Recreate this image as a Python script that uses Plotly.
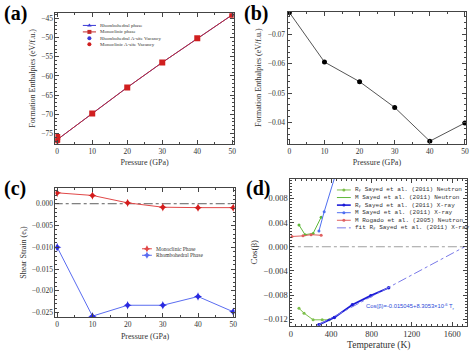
import plotly.graph_objects as go

# ---------------- data ----------------
pressure = [0, 10, 20, 30, 40, 50]
a_rhombo = [-76.6, -69.8, -63.0, -56.5, -50.2, -44.1]
a_mono = [-76.6, -69.8, -63.0, -56.5, -50.2, -44.1]
a_vac_p = [0]
a_rhombo_vac = [-77.1]
a_mono_vac = [-75.9]

b_enthalpy = [-0.0775, -0.0606, -0.0539, -0.0451, -0.0336, -0.0398]

c_mono = [0.0025, 0.0019, 0.0002, -0.0008, -0.0009, -0.0009]
c_rhombo = [-0.0100, -0.0258, -0.0233, -0.0233, -0.0213, -0.0248]

rf_neutron_T = [80, 130, 220, 310, 380]
rf_neutron_v = [-0.0102, -0.0110, -0.0121, -0.0121, -0.0121]
m_neutron_T = [80, 140, 220, 300]
m_neutron_v = [0.0036, 0.0020, 0.0022, 0.0049]
rf_xray_T = [278, 431, 610, 793, 970]
rf_xray_v = [-0.0129, -0.0117, -0.0096, -0.0081, -0.0068]
m_xray_T = [278, 330, 440]
m_xray_v = [0.0026, 0.0058, 0.0118]
rogado_T = [10, 120, 200, 300]
rogado_v = [0.0017, 0.0018, 0.0020, 0.0019]
fit_T = [278, 1725]
fit_v = [-0.0129, 0.0]

legend_a = ["Rhombohedral phase", "Monoclinic phase", "Rhombohedral A-site Vacancy", "Monoclinic A-site Vacancy"]
legend_c = ["Monoclinic Phase", "Rhombohedral Phase"]
legend_d = ["R<sub>f</sub> Sayed et al. (2011) Neutron", "M Sayed et al. (2011) Neutron",
            "R<sub>f</sub> Sayed et al. (2011) X-ray", "M Sayed et al. (2011) X-ray",
            "M Rogado et al. (2005) Neutron", "fit R<sub>f</sub> Sayed et al. (2011) X-ray"]

SERIF = "Liberation Serif"
MONO = "Liberation Mono"

RED_A = "#c42a2a"
BLUE_A = "#3b3bd6"
RED_C, RED_CM = "#e04848", "#d41c1c"
BLUE_C, BLUE_CM = "#5a6cf0", "#2a2ae0"
G1, G2 = "#7cbf4a", "#5fb83a"
DB, LB, RD, FIT = "#1c1cd8", "#4f6ff0", "#e06060", "#7a7ae8"

fig = go.Figure()

# ---- (a) ----
fig.add_trace(go.Scatter(x=pressure, y=a_rhombo, mode="lines+markers", name=legend_a[0], showlegend=False,
                         line=dict(color=BLUE_A, width=1), marker=dict(symbol="triangle-up", size=5, color=BLUE_A),
                         xaxis="x", yaxis="y"))
fig.add_trace(go.Scatter(x=pressure, y=a_mono, mode="lines+markers", name=legend_a[1], showlegend=False,
                         line=dict(color=RED_A, width=1), marker=dict(symbol="square", size=6, color="#d01f1f"),
                         xaxis="x", yaxis="y"))
fig.add_trace(go.Scatter(x=a_vac_p, y=a_rhombo_vac, mode="markers", name=legend_a[2], showlegend=False,
                         marker=dict(symbol="circle", size=5, color="#d01f1f"), xaxis="x", yaxis="y"))
fig.add_trace(go.Scatter(x=a_vac_p, y=a_mono_vac, mode="markers", name=legend_a[3], showlegend=False,
                         marker=dict(symbol="square", size=6, color="#d01f1f"), xaxis="x", yaxis="y"))

# ---- (b) ----
fig.add_trace(go.Scatter(x=pressure, y=b_enthalpy, mode="lines+markers", showlegend=False,
                         line=dict(color="#555555", width=1), marker=dict(symbol="circle", size=5, color="black"),
                         xaxis="x2", yaxis="y2"))

# ---- (c) ----
fig.add_trace(go.Scatter(x=[-1, 51], y=[0, 0], mode="lines", showlegend=False,
                         line=dict(color="#333333", width=0.8, dash="dashdot"), xaxis="x3", yaxis="y3"))
fig.add_trace(go.Scatter(x=pressure, y=c_mono, mode="lines+markers", name=legend_c[0], showlegend=False,
                         line=dict(color=RED_C, width=1), marker=dict(symbol="star-diamond", size=6, color=RED_CM),
                         xaxis="x3", yaxis="y3"))
fig.add_trace(go.Scatter(x=pressure, y=c_rhombo, mode="lines+markers", name=legend_c[1], showlegend=False,
                         line=dict(color=BLUE_C, width=1), marker=dict(symbol="star-diamond", size=6, color=BLUE_CM),
                         xaxis="x3", yaxis="y3"))

# ---- (d) ----
fig.add_trace(go.Scatter(x=[-50, 1800], y=[0, 0], mode="lines", showlegend=False,
                         line=dict(color="#888888", width=0.8, dash="dashdot"), xaxis="x4", yaxis="y4"))
d_series = [
    (rf_neutron_T, rf_neutron_v, G1, 1, 3),
    (m_neutron_T, m_neutron_v, G2, 1, 3),
    (rf_xray_T, rf_xray_v, DB, 1.8, 3.5),
    (m_xray_T, m_xray_v, LB, 1, 3),
    (rogado_T, rogado_v, RD, 1, 3),
]
for (T, v, col, w, ms), nm in zip(d_series, legend_d[:5]):
    fig.add_trace(go.Scatter(x=T, y=v, mode="lines+markers", name=nm, showlegend=False,
                             line=dict(color=col, width=w), marker=dict(size=ms, color=col),
                             xaxis="x4", yaxis="y4"))
fig.add_trace(go.Scatter(x=fit_T, y=fit_v, mode="lines", name=legend_d[5], showlegend=False,
                         line=dict(color=FIT, width=1, dash="dashdot"), xaxis="x4", yaxis="y4"))


# ---- hand-built compact legends on a pixel overlay axis (x5/y5) ----
def legend_key(x0, x1, y, col, width=1, dash="solid", symbol=None, msize=4, text="", font=None):
    fig.add_trace(go.Scatter(x=[x0, x1], y=[y, y], mode="lines", showlegend=False, hoverinfo="skip",
                             line=dict(color=col, width=width, dash=dash), xaxis="x5", yaxis="y5"))
    if symbol:
        fig.add_trace(go.Scatter(x=[(x0 + x1) / 2], y=[y], mode="markers", showlegend=False, hoverinfo="skip",
                                 marker=dict(symbol=symbol, size=msize, color=col), xaxis="x5", yaxis="y5"))
    fig.add_annotation(text=text, xref="x5", yref="y5", x=x1 + 2.5, y=y,
                       xanchor="left", yanchor="middle", showarrow=False, font=font)


fa = dict(family=SERIF, size=5, color="#333333")
legend_key(81.7, 95, 25.5, BLUE_A, symbol="triangle-up", msize=4, text=legend_a[0], font=fa)
legend_key(81.7, 95, 32, RED_A, symbol="square", msize=4, text=legend_a[1], font=fa)
for yy, col, txt in [(38.3, BLUE_A, legend_a[2]), (44.3, "#d01f1f", legend_a[3])]:
    fig.add_trace(go.Scatter(x=[88.3], y=[yy], mode="markers", showlegend=False, hoverinfo="skip",
                             marker=dict(symbol="circle", size=4, color=col), xaxis="x5", yaxis="y5"))
    fig.add_annotation(text=txt, xref="x5", yref="y5", x=97.5, y=yy, xanchor="left", yanchor="middle",
                       showarrow=False, font=fa)

fc = dict(family=SERIF, size=5.5, color="#333333")
legend_key(141.5, 151.5, 249.5, RED_C, symbol="star-diamond", msize=5, text=legend_c[0], font=fc)
legend_key(141.5, 151.5, 256, BLUE_C, symbol="star-diamond", msize=5, text=legend_c[1], font=fc)

fd = dict(family=MONO, size=6, color="#333333")
d_keys = [(G1, 1, "solid", "circle"), (G2, 1, "solid", None), (DB, 1.6, "solid", "circle"),
          (LB, 1, "solid", "circle"), (RD, 1, "solid", "circle"), (FIT, 1, "dashdot", None)]
for i, ((col, w, dash, sym), nm) in enumerate(zip(d_keys, legend_d)):
    legend_key(338.5, 352.5, 190.5 + i * 7.6, col, width=w, dash=dash, symbol=sym, msize=3, text=nm, font=fd)


def ax(domain, anchor, rng, dtick, fmt="", title="", tsize=7.5, ttsize=8, minor_dtick=None, standoff=4):
    d = dict(domain=domain, anchor=anchor, range=rng, dtick=dtick, tick0=0,
             showline=True, linecolor="#444444", linewidth=1, mirror="allticks",
             ticks="inside", ticklen=4, tickcolor="#444444", showgrid=False, zeroline=False,
             tickfont=dict(family=SERIF, size=tsize, color="#333333"),
             title=dict(text=title, font=dict(family=SERIF, size=ttsize, color="#333333"), standoff=standoff))
    if fmt:
        d["tickformat"] = fmt
    if minor_dtick:
        d["minor"] = dict(dtick=minor_dtick, ticks="inside", ticklen=2, tickcolor="#444444", showgrid=False)
    return d


fig.update_layout(
    width=474, height=351, margin=dict(l=0, r=0, t=0, b=0),
    plot_bgcolor="rgba(0,0,0,0)", paper_bgcolor="white", showlegend=False,
    xaxis=ax([0.114, 0.494], "y", [-0.5, 50.4], 10, title="Pressure (GPa)", minor_dtick=5),
    yaxis=ax([0.590, 0.962], "x", [-77.6, -43.7], 5, title="Formation Enthalpies (eV/f.u.)", minor_dtick=1),
    xaxis2=ax([0.609, 0.990], "y2", [-0.5, 50.4], 10, title="Pressure (GPa)", minor_dtick=5),
    yaxis2=ax([0.590, 0.966], "x2", [-0.0328, -0.0777], 0.01, fmt=".2f",
              title="Formation Enthalpies (eV/f.u.)", minor_dtick=0.002),
    xaxis3=ax([0.114, 0.496], "y3", [-0.5, 50.4], 10, title="Pressure (GPa)", minor_dtick=5),
    yaxis3=ax([0.093, 0.464], "x3", [-0.0261, 0.0037], 0.005, fmt=".3f",
              title="Shear Strain (e<sub>s</sub>)", minor_dtick=0.001),
    xaxis4=ax([0.615, 0.992], "y4", [-5, 1750], 400, title="Temperature (K)", tsize=8.5, ttsize=9.5,
              minor_dtick=50, standoff=5),
    yaxis4=ax([0.069, 0.490], "x4", [-0.0131, 0.0113], 0.004, fmt=".3f", title="Cos(β)", tsize=8.5, ttsize=9,
              minor_dtick=0.0005),
    xaxis5=dict(domain=[0, 1], anchor="y5", range=[0, 474], visible=False, fixedrange=True),
    yaxis5=dict(domain=[0, 1], anchor="x5", range=[351, 0], visible=False, fixedrange=True),
)

fig.add_annotation(text="Cos(β)=-0.015045+8.3053×10<sup>-6</sup> T<sub>r</sub>", xref="paper", yref="paper",
                   x=0.771, y=0.125, xanchor="left", yanchor="middle", showarrow=False,
                   font=dict(family="Liberation Sans", size=5.8, color="#2a4ad8"))

for lbl, x, y in [("(a)", 0.0, 1.0), ("(b)", 0.512, 1.0), ("(c)", 0.0, 0.5), ("(d)", 0.515, 0.5)]:
    fig.add_annotation(text="<b>" + lbl + "</b>", xref="paper", yref="paper", x=x, y=y,
                       xanchor="left", yanchor="top", showarrow=False,
                       font=dict(family=SERIF, size=20, color="black"))

fig.write_html("out.html")
